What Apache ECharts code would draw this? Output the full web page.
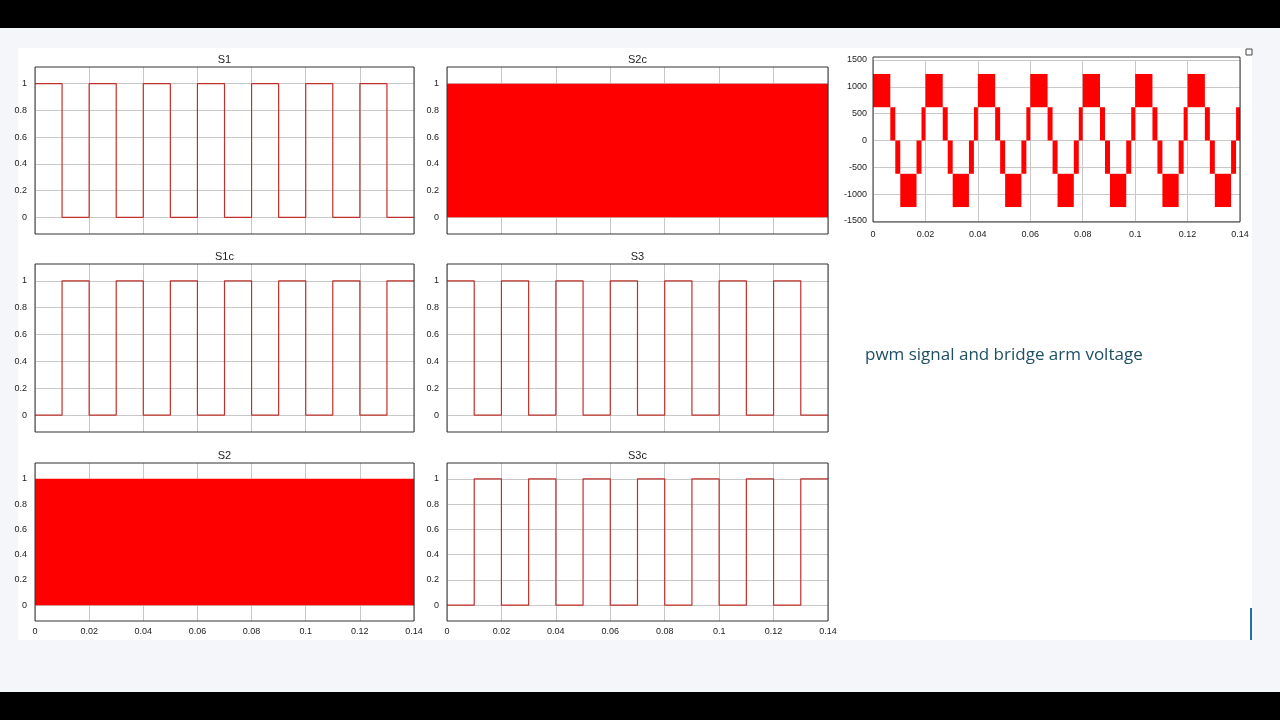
<!DOCTYPE html>
<html><head><meta charset="utf-8">
<script src="https://cdn.jsdelivr.net/npm/echarts@6/dist/echarts.min.js"></script>
<style>html,body{margin:0;padding:0;background:#f4f6f9}#c{width:1280px;height:720px}</style>
</head><body><div id="c"></div>
<script>
// ---- data ----
const titles = ['S1','S2c','S1c','S3','S2','S3c'];
const edgeTimes = [0,0.01,0.02,0.03,0.04,0.05,0.06,0.07,0.08,0.09,0.1,0.11,0.12,0.13,0.14];
const S1  = [1,0,1,0,1,0,1,0,1,0,1,0,1,0,0];
const S1c = [0,1,0,1,0,1,0,1,0,1,0,1,0,1,1];
const S3  = [1,0,1,0,1,0,1,0,1,0,1,0,1,0,0];
const S3c = [0,1,0,1,0,1,0,1,0,1,0,1,0,1,1];
// PWM filled regions [tStart, tEnd, low, high]
const S2band  = [[0,0.14,0,1]];
const S2cBand = [[0,0.14,0,1]];
// bridge arm voltage bands: start, end, low, high
const vStart = [0,0.0066,0.0085,0.0104,0.0166,0.0185, 0.02,0.0266,0.0285,0.0304,0.0366,0.0385, 0.04,0.0466,0.0485,0.0504,0.0566,0.0585, 0.06,0.0666,0.0685,0.0704,0.0766,0.0785, 0.08,0.0866,0.0885,0.0904,0.0966,0.0985, 0.1,0.1066,0.1085,0.1104,0.1166,0.1185, 0.12,0.1266,0.1285,0.1304,0.1366,0.1385];
const vEnd   = [0.0066,0.0085,0.0104,0.0166,0.0185,0.02, 0.0266,0.0285,0.0304,0.0366,0.0385,0.04, 0.0466,0.0485,0.0504,0.0566,0.0585,0.06, 0.0666,0.0685,0.0704,0.0766,0.0785,0.08, 0.0866,0.0885,0.0904,0.0966,0.0985,0.1, 0.1066,0.1085,0.1104,0.1166,0.1185,0.12, 0.1266,0.1285,0.1304,0.1366,0.1385,0.14];
const vLow   = [620,0,-620,-1240,-620,0, 620,0,-620,-1240,-620,0, 620,0,-620,-1240,-620,0, 620,0,-620,-1240,-620,0, 620,0,-620,-1240,-620,0, 620,0,-620,-1240,-620,0, 620,0,-620,-1240,-620,0];
const vHigh  = [1240,620,0,-620,0,620, 1240,620,0,-620,0,620, 1240,620,0,-620,0,620, 1240,620,0,-620,0,620, 1240,620,0,-620,0,620, 1240,620,0,-620,0,620, 1240,620,0,-620,0,620];
const xTicks = ['0','0.02','0.04','0.06','0.08','0.1','0.12','0.14'];

// ---- layout ----
const cols = [[35,414],[447,828]];
const rows = [[67,234],[264,432],[463,621]];
const grids=[],xAxes=[],yAxes=[],series=[],graphic=[];
const font='Liberation Sans';
graphic.push({type:'rect',shape:{x:0,y:0,width:1280,height:28},style:{fill:'#000'},silent:true});
graphic.push({type:'rect',shape:{x:0,y:692,width:1280,height:28},style:{fill:'#000'},silent:true});
graphic.push({type:'rect',shape:{x:18,y:48,width:1234,height:592},style:{fill:'#fff'},silent:true,z:-10});
graphic.push({type:'rect',shape:{x:1250,y:608,width:2,height:32},style:{fill:'#2a6f9a'},silent:true});
graphic.push({type:'rect',shape:{x:1246,y:49,width:6,height:6},style:{fill:'#fff',stroke:'#444',lineWidth:1},silent:true});
graphic.push({type:'text',x:865,y:347,style:{text:'pwm signal and bridge arm voltage',font:'17px "Open Sans"',fill:'#1f4f63'}});

function rectItem(params, api){
  const p0=api.coord([api.value(0),api.value(3)]), p1=api.coord([api.value(1),api.value(2)]);
  return {type:'rect',shape:{x:p0[0],y:p0[1],width:p1[0]-p0[0],height:p1[1]-p0[1]},style:{fill:'#ff0000'}};
}
const sq = {S1,S1c,S3,S3c};
titles.forEach((t,i)=>{
  const c=cols[i%2], r=rows[Math.floor(i/2)], h=r[1]-r[0];
  const bottom = Math.floor(i/2)===2;
  const gA=grids.length;
  grids.push({left:c[0],top:r[0],width:c[1]-c[0],height:h});
  grids.push({left:c[0],top:r[0]+0.1*h,width:c[1]-c[0],height:0.8*h});
  graphic.push({type:'text',x:(c[0]+c[1])/2,y:r[0]-13,style:{text:t,font:'11px '+font,fill:'#222',textAlign:'center'}});
  graphic.push({type:'rect',shape:{x:c[0],y:r[0],width:c[1]-c[0],height:h},style:{fill:'none',stroke:'#333',lineWidth:1},z:50,silent:true});
  xAxes.push({gridIndex:gA,type:'value',min:0,max:0.14,interval:0.02,axisLine:{show:false},axisTick:{show:false},
    axisLabel:{show:bottom,fontSize:9,fontFamily:font,color:'#222',margin:6,formatter:v=>xTicks[Math.round(v/0.02)]},
    splitLine:{lineStyle:{color:'#c8c8c8'}}});
  xAxes.push({gridIndex:gA+1,type:'value',min:0,max:0.14,show:false});
  yAxes.push({gridIndex:gA,type:'value',min:-0.125,max:1.125,show:false,splitLine:{show:false}});
  yAxes.push({gridIndex:gA+1,type:'value',min:0,max:1,interval:0.2,axisLine:{show:false},axisTick:{show:false},
    axisLabel:{fontSize:9,fontFamily:font,color:'#222',margin:8},splitLine:{lineStyle:{color:'#c8c8c8'}}});
  const xi=xAxes.length-2, yi=yAxes.length-2;
  if(sq[t]){
    series.push({type:'line',xAxisIndex:xi,yAxisIndex:yi,step:'end',symbol:'none',
      data:edgeTimes.map((x,k)=>[x,sq[t][k]]),lineStyle:{color:'#c0302a',width:1.2},z:10});
  } else {
    series.push({type:'custom',xAxisIndex:xi,yAxisIndex:yi,renderItem:rectItem,data:t==='S2'?S2band:S2cBand,z:10});
  }
});
// voltage plot
const gv=grids.length;
grids.push({left:873,top:60,width:367,height:161});
graphic.push({type:'rect',shape:{x:873,y:57,width:367,height:165},style:{fill:'none',stroke:'#333',lineWidth:1},z:50,silent:true});
xAxes.push({gridIndex:gv,type:'value',min:0,max:0.14,interval:0.02,axisLine:{show:false},axisTick:{show:false},
  axisLabel:{fontSize:9,fontFamily:font,color:'#222',margin:9,formatter:v=>xTicks[Math.round(v/0.02)]},splitLine:{lineStyle:{color:'#c8c8c8'}}});
yAxes.push({gridIndex:gv,type:'value',min:-1500,max:1500,interval:500,axisLine:{show:false},axisTick:{show:false},
  axisLabel:{fontSize:9,fontFamily:font,color:'#222',margin:6,formatter:v=>String(v)},splitLine:{lineStyle:{color:'#c8c8c8'}}});
series.push({type:'custom',xAxisIndex:xAxes.length-1,yAxisIndex:yAxes.length-1,renderItem:rectItem,
  data:vStart.map((s,k)=>[s,vEnd[k],vLow[k],vHigh[k]]),z:10});

const chart=echarts.init(document.getElementById('c'));
chart.setOption({animation:false,backgroundColor:'#f4f6f9',grid:grids,xAxis:xAxes,yAxis:yAxes,series,graphic});
</script></body></html>
